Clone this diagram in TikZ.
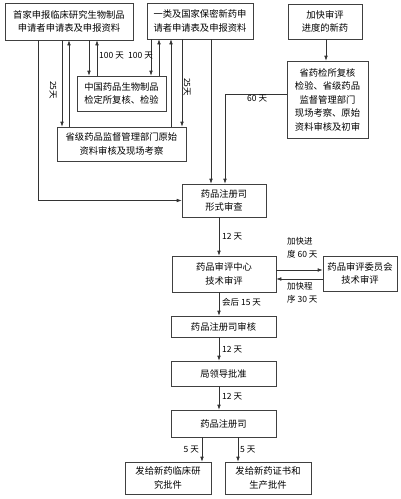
\documentclass[tikz,border=0pt]{standalone}
\usepackage{fontspec}
\setmainfont{Noto Sans CJK SC}
\usetikzlibrary{arrows.meta, positioning, calc}

\begin{document}
\begin{tikzpicture}[x=1pt, y=-1pt,
        box/.style={draw=black!75, line width=0.6pt, rectangle, inner sep=0pt, align=center,
            font=\fontsize{9.3}{13.5}\selectfont},
        lbl/.style={inner sep=0pt, font=\fontsize{8.5}{13.5}\selectfont},
        arr/.style={draw=black!80, line width=0.6pt, -{Latex[length=5pt, width=3.6pt]}}]
        \useasboundingbox (0,0) rectangle (400,499);

        \node[box, minimum width=128, minimum height=37] (Na) at (69, 21.5) {首家申报临床研究生物制品\\申请者申请表及申报资料};
        \node[box, minimum width=106, minimum height=36] (Nb) at (200, 21) {一类及国家保密新药申\\请者申请表及申报资料};
        \node[box, minimum width=74, minimum height=35] (Nc) at (325, 21.5) {加快审评\\进度的新药};
        \node[box, minimum width=89, minimum height=35] (Nd) at (121.5, 93.5) {中国药品生物制品\\检定所复核、检验};
        \node[box, minimum width=129, minimum height=34] (Ne) at (121.5, 144) {省级药品监督管理部门原始\\资料审核及现场考察};
        \node[box, minimum width=81, minimum height=77] (Nf) at (327.5, 99.5) {省药检所复核\\检验、省级药品\\监督管理部门\\现场考察、原始\\资料审核及初审};
        \node[box, minimum width=84, minimum height=33] (Ng) at (224, 200.5) {药品注册司\\形式审查};
        \node[box, minimum width=104, minimum height=36] (Nh) at (224, 274) {药品审评中心\\技术审评};
        \node[box, minimum width=74, minimum height=35] (Ni) at (360, 273.5) {药品审评委员会\\技术审评};
        \node[box, minimum width=105, minimum height=21] (Nj) at (223.5, 326.5) {药品注册司审核};
        \node[box, minimum width=105, minimum height=25] (Nk) at (223.5, 373.5) {局领导批准};
        \node[box, minimum width=105, minimum height=27] (Nl) at (223.5, 423.5) {药品注册司};
        \node[box, minimum width=86, minimum height=32] (Nm) at (168, 478) {发给新药临床研\\究批件};
        \node[box, minimum width=86, minimum height=32] (Nn) at (268, 478) {发给新药证书和\\生产批件};

        % first applicant
        \draw[arr] (Na.south -| 38,0) |- (Ng.west);
        \draw[arr] (Na.south -| 62,0) -- (Ne.north -| 62,0);
        \draw[arr] (Ne.north -| 69,0) -- (Na.south -| 69,0);
        \draw[arr] (Na.south -| 89,0) -- (Nd.north -| 89,0);
        \draw[arr] (Nd.north -| 97,0) -- (Na.south -| 97,0);
        % second applicant
        \draw[arr] (Nb.south -| 151,0) -- (Nd.north -| 151,0);
        \draw[arr] (Nd.north -| 159,0) -- (Nb.south -| 159,0);
        \draw[arr] (Ne.north -| 171,0) -- (Nb.south -| 171,0);
        \draw[arr] (Nb.south -| 182,0) -- (Ne.north -| 182,0);
        \draw[arr] (Nb.south -| 211,0) -- (Ng.north -| 211,0);
        % fast track
        \draw[arr] (Nc.south -| 326,0) -- (Nf.north -| 326,0);
        \draw[arr] (Nf.west |- 0,94) -| (Ng.north -| 225,0);

        \draw[arr] (Ng.south -| 219,0) -- (Nh.north -| 219,0);
        \draw[arr] (Nh.east |- 0,270) -- (Ni.west |- 0,270);
        \draw[arr] (Ni.west |- 0,279) -- (Nh.east |- 0,279);
        \draw[arr] (Nh.south -| 219,0) -- (Nj.north -| 219,0);
        \draw[arr] (Nj.south -| 219,0) -- (Nk.north -| 219,0);
        \draw[arr] (Nk.south -| 219,0) -- (Nl.north -| 219,0);
        \draw[arr] (Nl.south -| 202,0) -- (Nm.north -| 202,0);
        \draw[arr] (Nl.south -| 238,0) -- (Nn.north -| 238,0);

        \node[lbl, rotate=-90] (L25a) at (53, 90) {25天};
        \node[lbl, rotate=-90] (L25b) at (187, 87) {25天};
        \node[lbl, anchor=west] (L100a) at (99, 56) {100 天};
        \node[lbl, anchor=west] (L100b) at (128, 56) {100 天};
        \node[lbl, anchor=west] (L60) at (247, 99) {60 天};
        \node[lbl, anchor=west] (L12a) at (222, 237) {12 天};
        \node[lbl, anchor=west, align=left] (Lfast) at (287, 248) {加快进\\度 60 天};
        \node[lbl, anchor=west, align=left] (Lprog) at (287, 293) {加快程\\序 30 天};
        \node[lbl, anchor=west] (L15) at (222, 302) {会后 15 天};
        \node[lbl, anchor=west] (L12b) at (222, 350) {12 天};
        \node[lbl, anchor=west] (L12c) at (222, 397) {12 天};
        \node[lbl, anchor=east] (L5a) at (199, 450) {5 天};
        \node[lbl, anchor=west] (L5b) at (240, 450) {5 天};
    \end{tikzpicture}
\end{document}
